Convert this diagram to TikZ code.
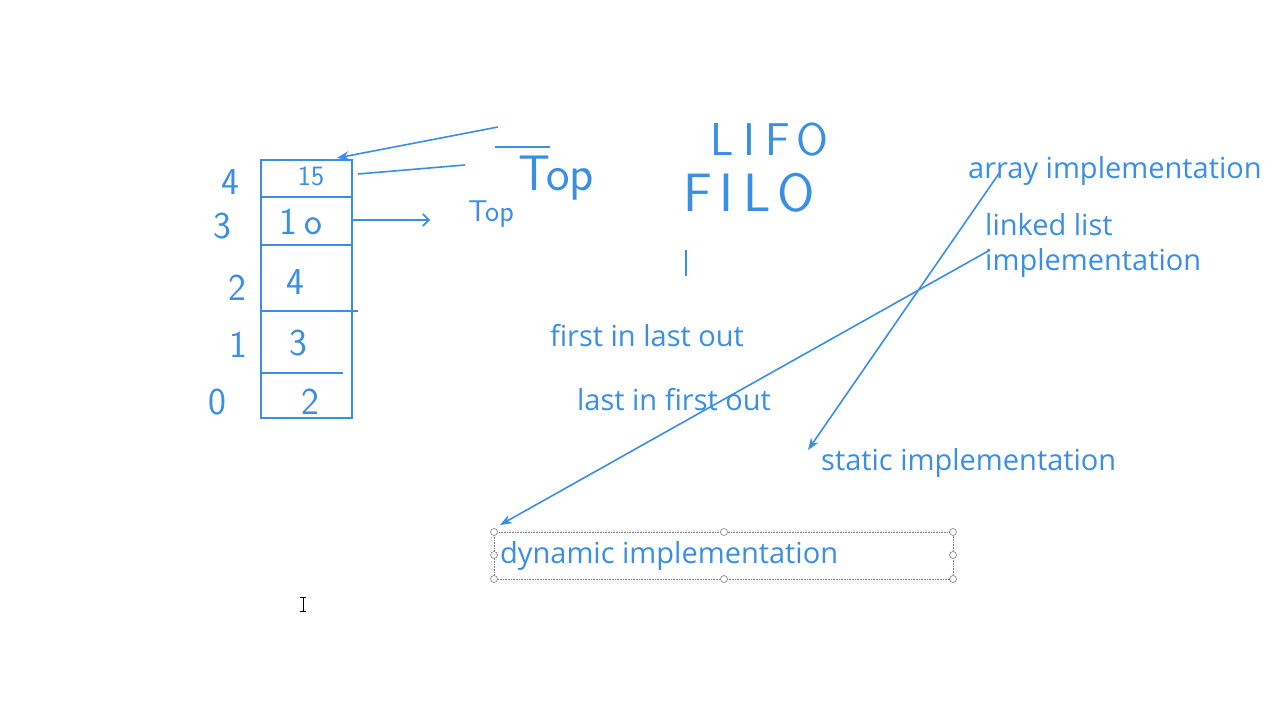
\documentclass[tikz,border=0pt]{standalone}
\usepackage{fontspec}
\setmainfont{Open Sans}
\usetikzlibrary{arrows.meta}
\definecolor{ink}{HTML}{3A8EE6}
\begin{document}
\begin{tikzpicture}[x=1pt,y=-1pt,
  pen/.style={draw=ink,line width=1.6pt},
  hand/.style={text=ink,font=\fontsize{38}{42}\selectfont\sffamily\mdseries},
  lbl/.style={text=ink,font=\fontsize{29}{35}\selectfont,inner sep=0pt},
  tip/.style={-{Stealth[length=12pt,width=9pt]}},
  handle/.style={draw=gray,fill=white,circle,inner sep=0pt,minimum size=7pt,line width=0.6pt}]
\useasboundingbox (0,0) rectangle (1280,720);
\fill[white] (0,0) rectangle (1280,720);
% stack
\draw[pen] (261,160) rectangle (352,418);
\draw[pen] (261,197) -- (352,197);
\draw[pen] (261,245) -- (352,245);
\draw[pen] (261,311) -- (358,311);
\draw[pen] (261,373) -- (343,373);
\node[hand,font=\fontsize{28}{32}\selectfont\sffamily] (v4) at (311,176) {15};
\node[hand] (v3) at (301,222) {1\,o};
\node[hand] (v2) at (295,282) {4};
\node[hand] (v1) at (298,343) {3};
\node[hand] (v0) at (310,402) {2};
\node[hand] (i4) at (230,182) {4};
\node[hand] (i3) at (222,226) {3};
\node[hand] (i2) at (237,288) {2};
\node[hand] (i1) at (238,345) {1};
\node[hand] (i0) at (217,402) {0};
% tops
\coordinate (a1) at (498,127); \coordinate (a2) at (337,158);
\draw[pen,tip] (a1) -- (a2);
\coordinate (b1) at (358,174); \coordinate (b2) at (465,165);
\draw[pen] (b1) -- (b2);
\node[hand,font=\fontsize{50}{54}\selectfont\sffamily] (top1) at (556,178) {Top};
\draw[pen] (495,147) -- (550,147);
\coordinate (c1) at (352,220);
\node[hand,font=\fontsize{30}{34}\selectfont\sffamily] (top2) at (491,214) {Top};
\draw[pen,-{Straight Barb[length=6pt]}] (c1) -- (430,220);
\node[hand,font=\fontsize{46}{50}\selectfont\sffamily] (lifo) at (769,140) {L\hspace{10pt}I\hspace{10pt}F\hspace{6pt}O};
\node[hand,font=\fontsize{54}{58}\selectfont\sffamily] (filo) at (749,193) {F\hspace{8pt}I\hspace{10pt}L\hspace{6pt}O};
\draw[pen] (686,250) -- (686,276);
% texts
\node[lbl] (fl) at (647,336) {first in last out};
\node[lbl] (lf) at (674,400) {last in first out};
\node[lbl,anchor=west] (arr) at (968,171) {array implementation};
\node[lbl,anchor=north west,align=left] (ll) at (985,213) {linked list\\implementation};
\node[lbl,anchor=west] (st) at (821,463) {static implementation};
\node[lbl,anchor=west] (dy) at (500,556) {dynamic implementation};
% connectors
\coordinate (p1) at (1000,172); \coordinate (p2) at (808,450);
\draw[pen,tip] (p1) -- (p2);
\coordinate (q1) at (990,250); \coordinate (q2) at (500,525);
\draw[pen,tip] (q1) -- (q2);
% selection box
\draw[gray,densely dotted,line width=0.6pt] (494,532) rectangle (953,579);
\foreach \x in {494,724,953} {\node[handle] at (\x,532) {}; \node[handle] at (\x,579) {};}
\node[handle] at (494,555) {}; \node[handle] at (953,555) {};
% cursor
\draw[black,line width=0.8pt] (303,597) -- (303,611) (300,597) -- (306,597) (300,611) -- (306,611);
\end{tikzpicture}
\end{document}
